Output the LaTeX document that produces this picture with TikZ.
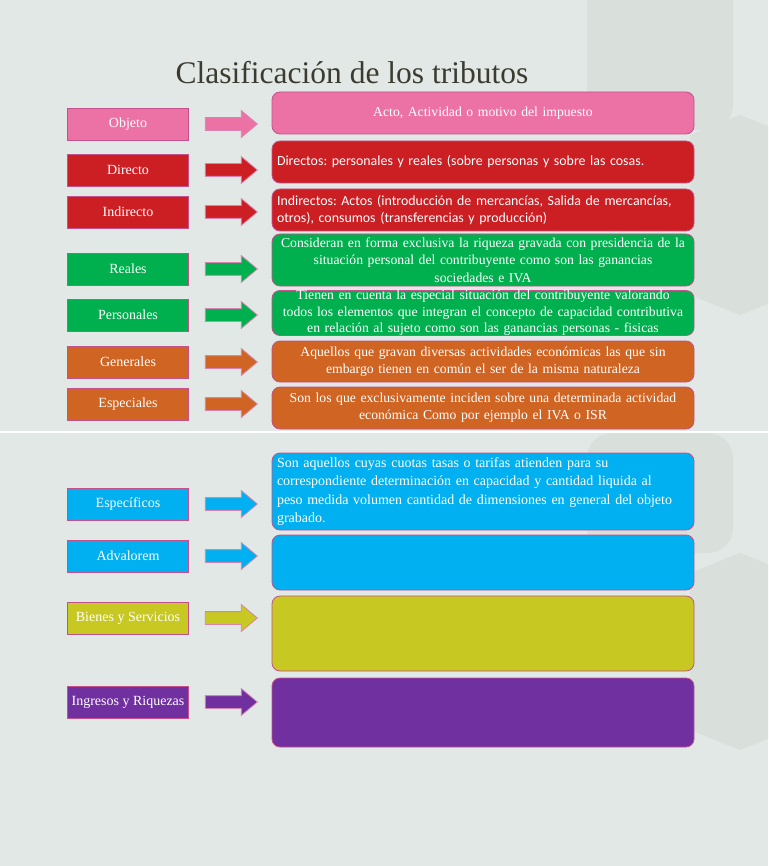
\documentclass[tikz,border=0pt]{standalone}
\usepackage{fontspec}
\setmainfont{Liberation Serif}
\newfontfamily\calibrifont{Carlito}
\usetikzlibrary{positioning, shapes.arrows}
\definecolor{cbg}{HTML}{E2E8E5}
\definecolor{cpanel}{HTML}{D9E0DC}
\definecolor{ctitle}{HTML}{3B3B30}
\definecolor{cedge}{HTML}{C4508C}
\definecolor{cpink}{HTML}{EC72A5}
\definecolor{cred}{HTML}{CC1F24}
\definecolor{cgreen}{HTML}{00B04F}
\definecolor{corange}{HTML}{D06422}
\definecolor{ccyan}{HTML}{00B0F0}
\definecolor{colive}{HTML}{C8C822}
\definecolor{cpurple}{HTML}{7030A0}
\tikzset{
  every picture/.style={line width=0.8pt},
  kind/.style={draw=cedge, fill=#1, text=white, minimum width=121pt, minimum height=32pt, inner sep=2pt, font=\fontsize{14}{16}\selectfont},
  detail/.style={draw=cedge, fill=#1, text=white, rounded corners=8pt, minimum width=422pt, text width=412pt, align=center, inner xsep=5pt, inner ysep=0pt, font=\fontsize{13.7}{17}\selectfont},
  fat arrow/.style={single arrow, draw=cedge!70, fill=#1, minimum height=52pt, minimum width=26pt, single arrow head extend=7pt, single arrow tip angle=80, inner xsep=0pt, inner ysep=6pt},
  title/.style={font=\fontsize{31.5}{36}\selectfont, text=ctitle},
}

\begin{document}
\frenchspacing
\begin{tikzpicture}[x=1pt, y=-1pt]
  % slide background and faint tiles
  \useasboundingbox (0,0) rectangle (768,866);
  \clip (0,0) rectangle (768,866);
  \fill[cbg] (0,0) rectangle (768,866);
  \fill[cpanel, rounded corners=25pt] (587,-30) rectangle (733,130);
  \fill[cpanel] (690,135) -- (740,115) -- (790,135) -- (790,295) -- (740,315) -- (690,295) -- cycle;
  \fill[cpanel, rounded corners=25pt] (587,433) rectangle (733,553);
  \fill[cpanel] (690,573) -- (740,553) -- (790,573) -- (790,730) -- (740,750) -- (690,730) -- cycle;
  \draw[white, line width=1.5pt] (0,432) -- (768,432);

  \node[title] (head) at (352,73) {Clasificación de los tributos};

  % first slide
  \node[kind=cpink] (objL) at (128,124) {Objeto};
  \node[kind=cred] (dirL) at (128,170) {Directo};
  \node[kind=cred] (indL) at (128,212) {Indirecto};
  \node[kind=cgreen] (reaL) at (128,269) {Reales};
  \node[kind=cgreen] (perL) at (128,315) {Personales};
  \node[kind=corange] (genL) at (128,362) {Generales};
  \node[kind=corange] (espL) at (128,404) {Especiales};

  \node[fat arrow=cpink, right=16pt of objL] (objA) {};
  \node[fat arrow=cred, right=16pt of dirL] (dirA) {};
  \node[fat arrow=cred, right=16pt of indL] (indA) {};
  \node[fat arrow=cgreen, right=16pt of reaL] (reaA) {};
  \node[fat arrow=cgreen, right=16pt of perL] (perA) {};
  \node[fat arrow=corange, right=16pt of genL] (genA) {};
  \node[fat arrow=corange, right=16pt of espL] (espA) {};

  \node[detail=cpink, minimum height=42pt] (objR) at (483,113) {Acto, Actividad o motivo del impuesto};
  \node[detail=cred, minimum height=42pt, align=left, font=\calibrifont\fontsize{13.9}{17}\selectfont] (dirR) at (483,162) {Directos: personales y reales (sobre personas y sobre las cosas.};
  \node[detail=cred, minimum height=42pt, align=left, font=\calibrifont\fontsize{13.9}{17}\selectfont] (indR) at (483,210) {Indirectos: Actos (introducción de mercancías, Salida de mercancías,\\ otros), consumos (transferencias y producción)};
  \node[detail=cgreen, minimum height=52pt, font=\fontsize{13.7}{17.3}\selectfont] (reaR) at (483,260) {Consideran en forma exclusiva la riqueza gravada con presidencia de la\\ situación personal del contribuyente como son las ganancias\\ sociedades e IVA};
  \node[detail=cgreen, minimum height=45pt, font=\fontsize{13.7}{16.3}\selectfont] (perR) at (483,313) {Tienen en cuenta la especial situación del contribuyente valorando\\ todos los elementos que integran el concepto de capacidad contributiva\\ en relación al sujeto como son las ganancias personas - fisicas};
  \node[detail=corange, minimum height=41pt] (genR) at (483,361.5) {Aquellos que gravan diversas actividades económicas las que sin\\ embargo tienen en común el ser de la misma naturaleza};
  \node[detail=corange, minimum height=42pt] (espR) at (483,408) {Son los que exclusivamente inciden sobre una determinada actividad\\ económica Como por ejemplo el IVA o ISR};

  % second slide
  \node[kind=ccyan] (speL) at (128,504) {Específicos};
  \node[kind=ccyan] (advL) at (128,556) {Advalorem};
  \node[kind=colive] (bieL) at (128,618) {Bienes y Servicios};
  \node[kind=cpurple] (ingL) at (128,702) {Ingresos y Riquezas};

  \node[fat arrow=ccyan, right=16pt of speL] (speA) {};
  \node[fat arrow=ccyan, right=16pt of advL] (advA) {};
  \node[fat arrow=colive, right=16pt of bieL] (bieA) {};
  \node[fat arrow=cpurple, right=16pt of ingL] (ingA) {};

  \node[detail=ccyan, minimum height=77pt, align=left, font=\fontsize{14}{18.5}\selectfont] (speR) at (483,491.5) {Son aquellos cuyas cuotas tasas o tarifas atienden para su\\ correspondiente determinación en capacidad y cantidad liquida al\\ peso medida volumen cantidad de dimensiones en general del objeto\\ grabado.};
  \node[detail=ccyan, minimum height=55pt] (advR) at (483,562.5) {};
  \node[detail=colive, minimum height=75pt] (bieR) at (483,633.5) {};
  \node[detail=cpurple, minimum height=69pt] (ingR) at (483,712.5) {};
\end{tikzpicture}
\end{document}
